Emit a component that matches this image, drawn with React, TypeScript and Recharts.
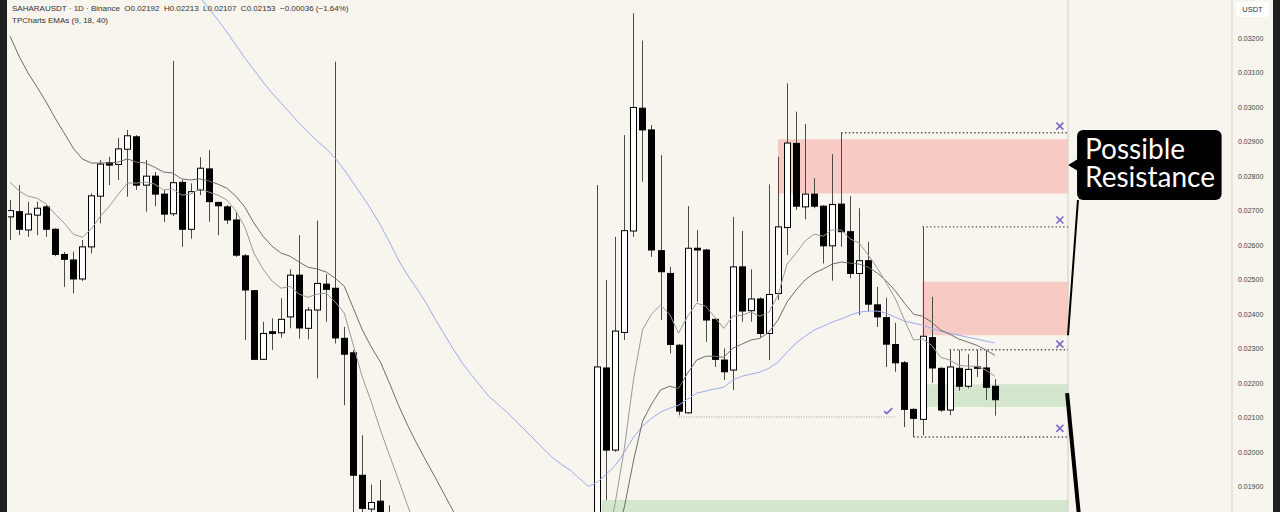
import {
  Bar,
  ComposedChart,
  Line,
  ReferenceArea,
  ReferenceDot,
  ReferenceLine,
  XAxis,
  YAxis,
} from "recharts";

// daily candles, index 0 = leftmost visible bar
const opens = [
  0.02683, 0.02698, 0.02645, 0.02688, 0.02712, 0.02647, 0.02574, 0.02558, 0.02503, 0.02596,
  0.02743, 0.0284, 0.02835, 0.02879, 0.02915, 0.02775, 0.02801, 0.02749, 0.02692, 0.02783,
  0.02647, 0.02761, 0.02822, 0.02725, 0.02712, 0.02674, 0.0257, 0.02469, 0.0227, 0.0235,
  0.02347, 0.02393, 0.02514, 0.0236, 0.02413, 0.02488, 0.02476, 0.02331, 0.02289, 0.01934,
  0.01836, 0.01859, 0.01746, 0.017, 0.0167, 0.0163, 0.0168, 0.0166, 0.016, 0.0164,
  0.0169, 0.0165, 0.0161, 0.0158, 0.0155, 0.0159, 0.0156, 0.0153, 0.0155, 0.016,
  0.0163, 0.0161, 0.0165, 0.0168, 0.017, 0.0173, 0.02245, 0.02007, 0.02348, 0.02642,
  0.02998, 0.02935, 0.02585, 0.02519, 0.02311, 0.02115, 0.02592, 0.02587, 0.02386, 0.02268,
  0.02239, 0.02538, 0.02411, 0.02445, 0.02345, 0.02461, 0.02652, 0.02896, 0.02712, 0.02749,
  0.02714, 0.02599, 0.0272, 0.0264, 0.02519, 0.02556, 0.02428, 0.02391, 0.02313, 0.0226,
  0.02125, 0.02096, 0.02333, 0.02244, 0.02123, 0.02244, 0.02192, 0.02248, 0.02245, 0.02192,
];
const highs = [
  0.02732, 0.02775, 0.02727, 0.02727, 0.0272, 0.0265, 0.02581, 0.02582, 0.02616, 0.02751,
  0.02848, 0.02857, 0.02912, 0.02935, 0.0292, 0.02848, 0.02813, 0.02761, 0.03135, 0.0279,
  0.0278, 0.02856, 0.02877, 0.02726, 0.02717, 0.02698, 0.02575, 0.02471, 0.02379, 0.02389,
  0.02447, 0.02531, 0.0263, 0.02422, 0.02672, 0.02517, 0.03133, 0.02364, 0.02297, 0.0205,
  0.01907, 0.0192, 0.01847, 0.0176, 0.0172, 0.017, 0.0174, 0.0169, 0.0166, 0.0171,
  0.0173, 0.0168, 0.0165, 0.0163, 0.0161, 0.0164, 0.016, 0.0158, 0.0162, 0.0166,
  0.0168, 0.0167, 0.0171, 0.0174, 0.0177, 0.02775, 0.025, 0.02625, 0.0292, 0.03273,
  0.03194, 0.02949, 0.02862, 0.02538, 0.02314, 0.02714, 0.02645, 0.0259, 0.0239, 0.02302,
  0.02683, 0.02642, 0.02531, 0.0245, 0.02777, 0.02857, 0.0307, 0.02988, 0.02952, 0.02795,
  0.02717, 0.02865, 0.02927, 0.02743, 0.02708, 0.02611, 0.0248, 0.02449, 0.02376, 0.02265,
  0.02128, 0.02654, 0.02451, 0.02247, 0.02297, 0.02297, 0.02285, 0.02297, 0.02297, 0.02213,
];
const lows = [
  0.02616, 0.0263, 0.02625, 0.0263, 0.02625, 0.02569, 0.0248, 0.02461, 0.02497, 0.02577,
  0.02664, 0.02775, 0.0279, 0.02741, 0.02761, 0.02698, 0.02714, 0.02668, 0.02685, 0.02596,
  0.0262, 0.02746, 0.02669, 0.0263, 0.02662, 0.02567, 0.02326, 0.02268, 0.02268, 0.02297,
  0.02333, 0.0236, 0.0233, 0.02328, 0.02215, 0.02379, 0.02316, 0.02137, 0.01804, 0.01775,
  0.01789, 0.01717, 0.0166, 0.0164, 0.016, 0.0159, 0.0165, 0.0158, 0.0156, 0.0162,
  0.0163, 0.0158, 0.0155, 0.0152, 0.0151, 0.0154, 0.015, 0.0149, 0.0153, 0.0157,
  0.0158, 0.0157, 0.0162, 0.0164, 0.0166, 0.0171, 0.01862, 0.02002, 0.02326, 0.02625,
  0.02785, 0.02567, 0.02384, 0.02287, 0.02108, 0.02113, 0.02437, 0.02321, 0.02248, 0.0221,
  0.02181, 0.02379, 0.02379, 0.02333, 0.02268, 0.02442, 0.02572, 0.02703, 0.02676, 0.02708,
  0.02548, 0.02498, 0.02596, 0.02505, 0.02398, 0.02408, 0.02364, 0.02248, 0.02234, 0.02074,
  0.02045, 0.0205, 0.02202, 0.02118, 0.02108, 0.02179, 0.02186, 0.02219, 0.02152, 0.02107,
];
const closes = [
  0.02701, 0.02647, 0.02691, 0.02708, 0.02647, 0.02574, 0.0256, 0.02503, 0.02596, 0.02744,
  0.02836, 0.02833, 0.0288, 0.02918, 0.02775, 0.02801, 0.02749, 0.02691, 0.02782, 0.02647,
  0.02756, 0.02824, 0.02727, 0.02715, 0.02674, 0.02572, 0.02471, 0.0227, 0.02345, 0.02345,
  0.02386, 0.02514, 0.02361, 0.02413, 0.0249, 0.02473, 0.02332, 0.02285, 0.01934, 0.01838,
  0.01855, 0.01746, 0.017, 0.0167, 0.0163, 0.0168, 0.0166, 0.016, 0.0164, 0.0169,
  0.0165, 0.0161, 0.0158, 0.0155, 0.0159, 0.0156, 0.0153, 0.0155, 0.016, 0.0163,
  0.0161, 0.0165, 0.0168, 0.017, 0.0173, 0.02248, 0.02007, 0.02352, 0.02643, 0.03,
  0.02935, 0.02587, 0.02524, 0.02313, 0.0212, 0.02592, 0.02587, 0.02384, 0.0227, 0.02234,
  0.02538, 0.0241, 0.02445, 0.02345, 0.02458, 0.02654, 0.02897, 0.02714, 0.02749, 0.02714,
  0.02599, 0.02719, 0.0264, 0.02519, 0.02556, 0.0243, 0.02393, 0.02314, 0.0226, 0.02125,
  0.02099, 0.02337, 0.02245, 0.02123, 0.02248, 0.02192, 0.02241, 0.02244, 0.02189, 0.02153,
];

// TPCharts EMAs
const ema9 = [
  0.02784, 0.02758, 0.02743, 0.02737, 0.0272, 0.02691, 0.02665, 0.02633, 0.02624, 0.02648,
  0.02685, 0.02714, 0.02749, 0.02781, 0.02781, 0.02784, 0.02778, 0.02761, 0.02764, 0.02746,
  0.02749, 0.02764, 0.02755, 0.02746, 0.02732, 0.027, 0.02653, 0.02578, 0.02532, 0.02497,
  0.02476, 0.02482, 0.02459, 0.0245, 0.02459, 0.02462, 0.02436, 0.02404, 0.02311, 0.02218,
  0.02146, 0.02065, 0.01992, 0.0192, 0.01847, 0.01775, 0.01717, 0.01673, 0.01644, 0.01615,
  0.01601, 0.01586, 0.01572, 0.01543, 0.01528, 0.01514, 0.01499, 0.01485, 0.0149, 0.01499,
  0.01499, 0.01508, 0.01514, 0.01519, 0.01528, 0.01672, 0.01731, 0.01856, 0.02012, 0.0221,
  0.02355, 0.02401, 0.02427, 0.02401, 0.02346, 0.02395, 0.02433, 0.02424, 0.02392, 0.0236,
  0.02395, 0.02398, 0.02407, 0.02395, 0.02407, 0.02456, 0.02546, 0.02578, 0.02613, 0.02633,
  0.02627, 0.02645, 0.02645, 0.02619, 0.02607, 0.02572, 0.02534, 0.02491, 0.02445, 0.02384,
  0.02326, 0.02329, 0.02311, 0.02276, 0.02268, 0.02253, 0.0225, 0.0225, 0.02239, 0.02221,
];
const ema18 = [
  0.03207, 0.03149, 0.031, 0.03059, 0.03016, 0.02969, 0.02926, 0.02882, 0.02851, 0.02839,
  0.02839, 0.02839, 0.02842, 0.02851, 0.02842, 0.02839, 0.02827, 0.02813, 0.0281, 0.02793,
  0.0279, 0.02793, 0.02787, 0.02778, 0.02766, 0.02743, 0.02711, 0.02665, 0.02627, 0.02598,
  0.02578, 0.02569, 0.02552, 0.02537, 0.02532, 0.02523, 0.02505, 0.02482, 0.02418, 0.02355,
  0.02305, 0.02262, 0.02201, 0.02137, 0.02079, 0.02027, 0.01978, 0.01931, 0.01882, 0.01833,
  0.01789, 0.01751, 0.01717, 0.01688, 0.01659, 0.01635, 0.01612, 0.01592, 0.01577, 0.01569,
  0.01563, 0.01557, 0.01557, 0.0156, 0.01566, 0.01638, 0.01677, 0.01748, 0.01842, 0.01975,
  0.0209, 0.0214, 0.02181, 0.02192, 0.02186, 0.0223, 0.02268, 0.02279, 0.02279, 0.02276,
  0.02302, 0.02314, 0.02326, 0.02331, 0.02349, 0.02384, 0.02436, 0.02471, 0.025, 0.0252,
  0.02532, 0.02546, 0.02552, 0.02549, 0.02546, 0.02537, 0.0252, 0.02497, 0.02468, 0.02433,
  0.02401, 0.02395, 0.02378, 0.02355, 0.02343, 0.02329, 0.0232, 0.02311, 0.02297, 0.02282,
];
const ema40 = [
  0.04718, 0.04622, 0.0453, 0.0444, 0.04353, 0.04269, 0.04187, 0.04109, 0.04034, 0.03961,
  0.03892, 0.03825, 0.03761, 0.037, 0.03642, 0.03587, 0.03535, 0.03486, 0.03439, 0.03396,
  0.03355, 0.0332, 0.03288, 0.03254, 0.03219, 0.03181, 0.03143, 0.03109, 0.03074, 0.03042,
  0.03013, 0.02984, 0.02955, 0.02929, 0.02903, 0.0288, 0.02853, 0.02819, 0.02781, 0.02743,
  0.02703, 0.02659, 0.0261, 0.02558, 0.02514, 0.02476, 0.02436, 0.02389, 0.02346, 0.02302,
  0.02262, 0.02227, 0.02195, 0.02163, 0.0214, 0.02117, 0.02091, 0.02065, 0.02039, 0.02012,
  0.01986, 0.01966, 0.01949, 0.01925, 0.01902, 0.01914, 0.01937, 0.01963, 0.02001, 0.02044,
  0.02076, 0.02099, 0.02117, 0.02128, 0.02137, 0.02155, 0.02172, 0.02178, 0.02184, 0.02189,
  0.0221, 0.02221, 0.02227, 0.02233, 0.02244, 0.02262, 0.02291, 0.02317, 0.02337, 0.02355,
  0.02366, 0.02378, 0.02387, 0.02398, 0.02407, 0.0241, 0.0241, 0.02404, 0.02392, 0.02381,
  0.02375, 0.02369, 0.0236, 0.02352, 0.02346, 0.0234, 0.02334, 0.02329, 0.02323, 0.02317,
];

const priceTicks = [
  0.019, 0.02, 0.021, 0.022, 0.023, 0.024, 0.025, 0.026, 0.027, 0.028, 0.029, 0.03, 0.031, 0.032,
];

// drawn zones: [fromBar, toBar, bottom, top]
const supplyZones = [
  [85, 117.1, 0.02751, 0.02908],
  [101, 117.1, 0.0234, 0.02495],
];
const demandZones = [
  [101.4, 117.1, 0.02132, 0.02198],
  [65.5, 117.1, 0.018, 0.01862],
];
// dotted target lines: [fromBar, price]
const targetLines = [
  [92, 0.02927],
  [101, 0.02654],
  [104, 0.02298],
  [100, 0.02045],
];

const rows = opens.map((open, i) => ({
  i,
  open,
  high: highs[i],
  low: lows[i],
  close: closes[i],
  range: [lows[i], highs[i]],
  ema9: ema9[i],
  ema18: ema18[i],
  ema40: ema40[i],
}));

const BG = "#f8f4ee";
const PURPLE = "#7a68cc";
const FONT = "'Liberation Sans', Arial, sans-serif";

function Candle(props: any) {
  const { x, y, width, height, payload } = props;
  if (!payload || height == null) return null;
  const { open, close, high, low } = payload;
  const top = Math.min(y, y + height);
  const bot = Math.max(y, y + height);
  const k = (bot - top) / (high - low);
  const py = (v: number) => top + (high - v) * k;
  const cx = Math.round(x + width / 2) + 0.5;
  const up = close >= open;
  const bTop = py(Math.max(open, close));
  const bh = Math.max(1, py(Math.min(open, close)) - bTop);
  return (
    <g>
      <line x1={cx} x2={cx} y1={top} y2={bot} stroke="#4a4a4a" strokeWidth={1} />
      <rect
        x={cx - 3}
        y={bTop}
        width={6}
        height={bh}
        fill={up ? "#ffffff" : "#000000"}
        stroke="#000000"
        strokeWidth={1}
      />
    </g>
  );
}

function Cross(props: any) {
  const { cx, cy } = props;
  const s = 3.5;
  return (
    <g stroke={PURPLE} strokeWidth={1.6}>
      <line x1={cx - s} y1={cy - s} x2={cx + s} y2={cy + s} />
      <line x1={cx - s} y1={cy + s} x2={cx + s} y2={cy - s} />
    </g>
  );
}

function Check(props: any) {
  const { cx, cy } = props;
  return (
    <path
      d={`M${cx - 4},${cy} L${cx - 1.5},${cy + 2.5} L${cx + 4},${cy - 3}`}
      stroke={PURPLE}
      strokeWidth={1.8}
      fill="none"
    />
  );
}

function Callout(props: any) {
  const { x, y, width, height } = props;
  return (
    <g>
      <polygon
        points={`${x - 9},${y + 35} ${x + 1},${y + 29} ${x + 1},${y + 41}`}
        fill="#000"
      />
      <rect x={x} y={y} width={width} height={height} rx={6} fill="#000" />
      <text x={x + 8} fill="#fff" fontSize={28} fontFamily="Lato, 'Open Sans', sans-serif">
        <tspan x={x + 8} y={y + 29}>
          Possible
        </tspan>
        <tspan x={x + 8} y={y + 57}>
          Resistance
        </tspan>
      </text>
    </g>
  );
}

export default function App() {
  return (
    <div
      style={{
        position: "fixed",
        left: 0,
        top: 0,
        width: 1280,
        height: 512,
        background: BG,
        overflow: "hidden",
        fontFamily: FONT,
      }}
    >
      <ComposedChart
        width={1280}
        height={512}
        data={rows}
        margin={{ top: 0, right: 8, bottom: 0, left: 8 }}
      >
        <XAxis
          type="number"
          dataKey="i"
          domain={[-0.2214, 135.25]}
          allowDataOverflow
          hide
        />
        <YAxis
          orientation="right"
          width={40}
          domain={[0.0182754, 0.0331159]}
          allowDataOverflow
          ticks={priceTicks}
          tickFormatter={(v: number) => v.toFixed(5)}
          tick={{ fontSize: 7, fill: "#444", fontFamily: FONT }}
          tickLine={false}
          tickSize={4}
          tickMargin={2}
          axisLine={{ stroke: "#d9d3cb" }}
        />

        {supplyZones.map(([a, b, lo, hi], k) => (
          <ReferenceArea
            key={`s${k}`}
            x1={a}
            x2={b}
            y1={lo}
            y2={hi}
            fill="#f7cbc4"
            fillOpacity={1}
            stroke="none"
            ifOverflow="hidden"
          />
        ))}
        {demandZones.map(([a, b, lo, hi], k) => (
          <ReferenceArea
            key={`d${k}`}
            x1={a}
            x2={b}
            y1={lo}
            y2={hi}
            fill="#d5e6cf"
            fillOpacity={1}
            stroke="none"
            ifOverflow="hidden"
          />
        ))}

        <ReferenceLine x={117.1} stroke="#d2ccc4" strokeWidth={1} />

        {targetLines.map(([a, p], k) => (
          <ReferenceLine
            key={`t${k}`}
            segment={[
              { x: a, y: p },
              { x: 117.1, y: p },
            ]}
            stroke="#555"
            strokeWidth={1.4}
            strokeDasharray="1.4 2.4"
          />
        ))}
        <ReferenceLine
          segment={[
            { x: 74, y: 0.02103 },
            { x: 98, y: 0.02103 },
          ]}
          stroke="#9a9a9a"
          strokeWidth={1}
          strokeDasharray="1 1.5"
        />

        <Line
          dataKey="ema40"
          stroke="#9cabf0"
          strokeWidth={1}
          dot={false}
          isAnimationActive={false}
        />
        <Line
          dataKey="ema18"
          stroke="#6e6e6e"
          strokeWidth={1}
          dot={false}
          isAnimationActive={false}
        />
        <Line
          dataKey="ema9"
          stroke="#9a9a9a"
          strokeWidth={1}
          dot={false}
          isAnimationActive={false}
        />

        <Bar
          dataKey="range"
          barSize={7}
          shape={<Candle />}
          isAnimationActive={false}
        />

        {[0.02946, 0.02674, 0.02314, 0.0207].map((p) => (
          <ReferenceDot key={p} x={116.2} y={p} r={4} shape={<Cross />} />
        ))}
        <ReferenceDot x={97.2} y={0.0212} r={4} shape={<Check />} />

        <ReferenceLine
          segment={[
            { x: 118.2, y: 0.02732 },
            { x: 117.1, y: 0.0234 },
          ]}
          stroke="#000"
          strokeWidth={2}
        />
        <ReferenceLine
          segment={[
            { x: 117.0, y: 0.02172 },
            { x: 118.3, y: 0.0182 },
          ]}
          stroke="#000"
          strokeWidth={4}
          ifOverflow="hidden"
        />
        <ReferenceArea
          x1={118.1}
          x2={134.1}
          y1={0.02732}
          y2={0.02935}
          shape={<Callout />}
        />
      </ComposedChart>

      <div
        style={{
          position: "absolute",
          left: 12,
          top: 4,
          fontSize: 8,
          color: "#333",
          whiteSpace: "pre",
        }}
      >
        {"SAHARAUSDT · 1D · Binance  O0.02192  H0.02213  L0.02107  C0.02153  −0.00036 (−1.64%)"}
      </div>
      <div
        style={{
          position: "absolute",
          left: 12,
          top: 16,
          fontSize: 8,
          color: "#333",
          whiteSpace: "pre",
        }}
      >
        TPCharts EMAs (9, 18, 40)
      </div>

      <div
        style={{
          position: "absolute",
          left: 1236,
          top: 2,
          width: 33,
          height: 15,
          background: "#ffffff",
          borderRadius: 3,
          fontSize: 7.5,
          color: "#333",
          textAlign: "center",
          lineHeight: "15px",
        }}
      >
        USDT
      </div>
      <div
        style={{ position: "absolute", left: 0, top: 0, width: 7, height: 512, background: "#1e1e1e" }}
      />
      <div
        style={{ position: "absolute", left: 1273, top: 0, width: 7, height: 512, background: "#1e1e1e" }}
      />
    </div>
  );
}
